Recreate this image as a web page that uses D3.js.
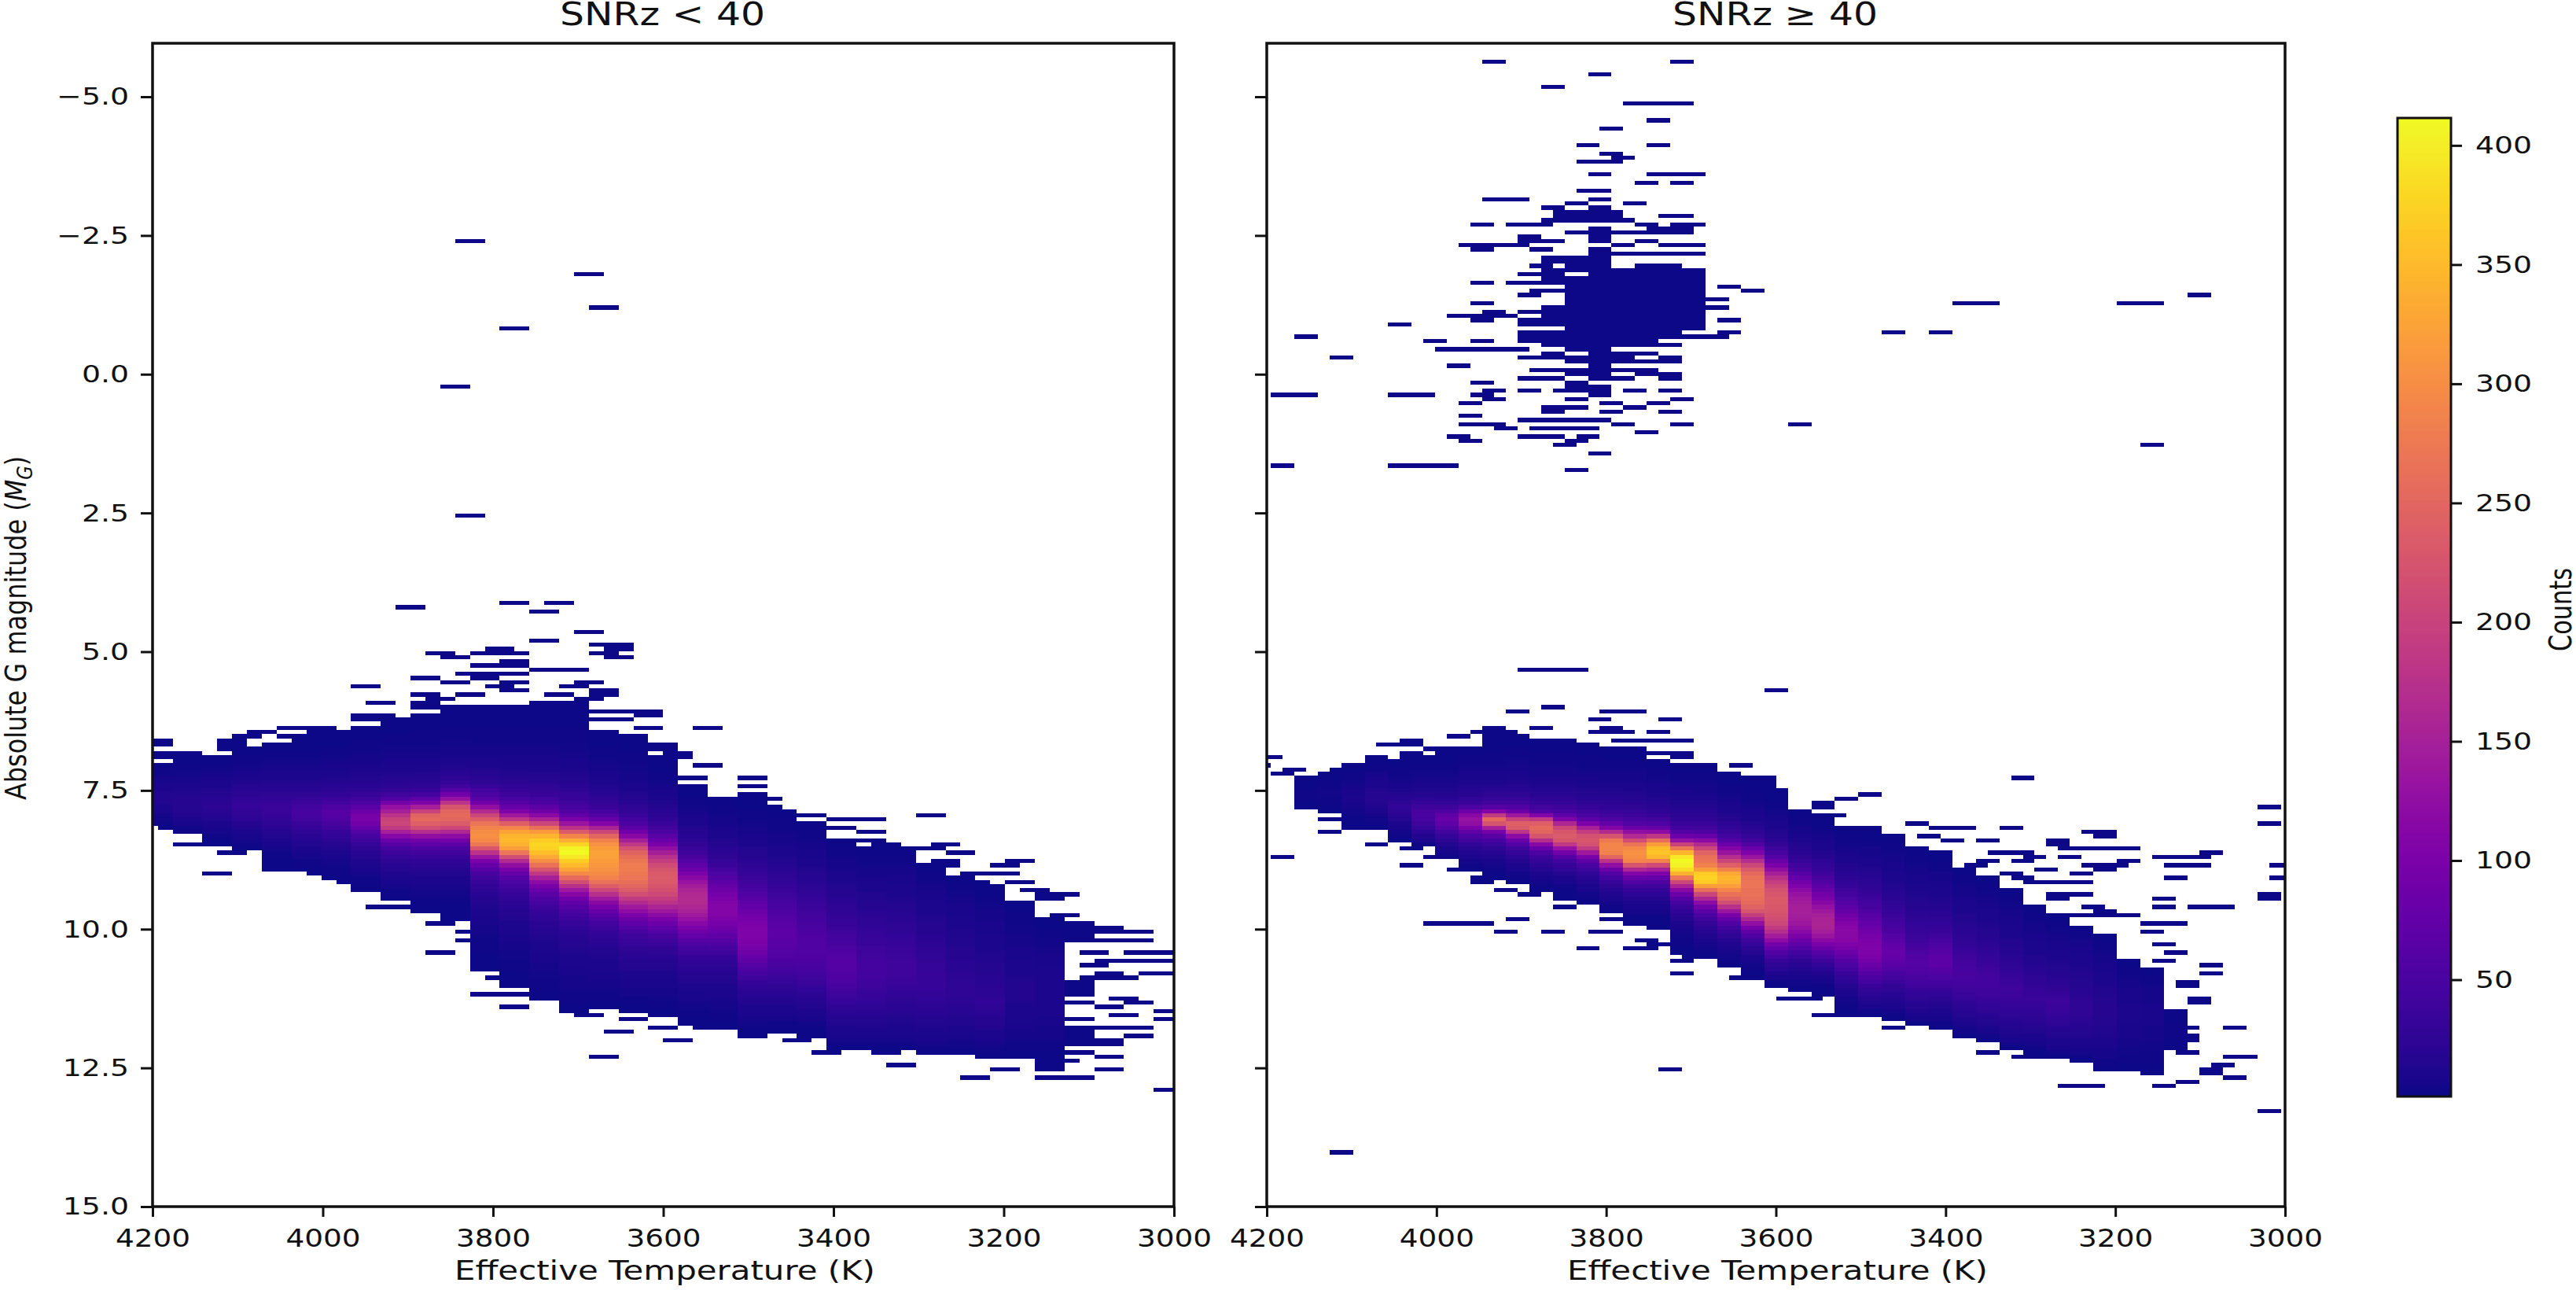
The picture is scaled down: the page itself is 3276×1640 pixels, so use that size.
<!DOCTYPE html>
<html>
<head>
<meta charset="utf-8">
<title>Absolute magnitude against effective temperature</title>
<script src="https://cdn.jsdelivr.net/npm/d3@7/dist/d3.min.js"></script>
<style>
  html, body { margin: 0; background: #fff; }
  svg { display: block; }
  text { font-family: "DejaVu Sans", sans-serif; fill: #111; }
</style>
</head>
<body>
<svg id="chart" width="3276" height="1640"></svg>
<script>
// Axis ticks
const tempTicks = [4200, 4000, 3800, 3600, 3400, 3200, 3000];
const magTicks = [-5, -2.5, 0, 2.5, 5, 7.5, 10, 12.5, 15];
const countTicks = [50, 100, 150, 200, 250, 300, 350, 400];

// Histogram grids: temperature bin edges (K) and magnitude rows
const lowEdgeStart = 4211.2, lowBinWidth = 34.92;
const highEdgeStart = 4195.4, highBinWidth = 27.7;
const magTop = -5.964, magStep = 0.075;

// SNRz < 40: first occupied magnitude row of each temperature bin
const lowFirstRows = [174,172,171,169,168,167,166,164,162,161,159,159,159,158,158,165,166,172,178,181,181,184,187,191,193,193,197,200,202,206,210];
// SNRz < 40: counts per row, one list per temperature bin
const lowCounts = [
[3,4,6,8,10,12,14,15,14,12,10,7,5,3],
[2,3,4,5,7,9,11,13,15,17,18,17,16,14,11,8,5,3],
[2,2,3,5,6,8,10,12,14,17,19,21,22,20,18,15,12,9,6,4,2],
[2,2,3,4,5,7,9,11,13,16,19,23,27,30,31,29,26,22,18,15,12,9,6,4,2],
[2,2,3,3,5,6,8,10,12,14,17,20,24,28,33,36,36,33,29,25,21,17,14,11,8,6,4,3,2],
[1,2,2,3,4,5,7,8,10,12,14,17,20,25,30,37,43,47,46,42,36,31,26,21,17,14,11,8,6,4,3,2],
[1,2,2,3,4,5,6,8,9,11,13,16,19,23,28,35,44,54,63,62,56,48,40,33,27,22,18,15,12,9,7,5,4,3,2],
[1,2,2,3,3,4,5,6,7,9,11,13,15,18,21,26,32,40,52,66,84,98,101,92,76,60,47,38,31,25,20,16,13,10,8,6,4,3,2],
[1,1,2,2,3,3,4,5,6,7,8,10,11,13,16,19,23,29,38,58,95,128,150,178,200,205,190,150,112,84,62,47,37,30,24,20,16,13,10,8,6,4,3,2],
[1,1,2,2,3,3,4,4,5,6,7,8,10,12,14,17,21,26,33,45,70,105,150,200,245,255,240,215,170,125,92,70,54,42,34,27,22,18,15,12,10,8,6,5,3,2,1],
[1,1,1,2,2,3,3,4,5,5,6,7,9,11,13,16,19,24,31,42,60,90,130,180,225,250,255,250,235,205,160,120,90,68,52,42,34,27,22,18,15,12,10,8,7,5,4,3,2,2,1],
[1,1,1,2,2,3,3,4,4,5,6,7,8,10,12,14,17,21,26,33,43,52,65,90,125,165,205,238,268,288,298,302,295,272,228,178,135,100,78,62,50,41,34,28,24,20,17,15,13,11,10,9,8,7,6,5,4,4,3,3,2,2,1],
[1,1,1,2,2,3,3,4,4,5,6,7,8,9,11,13,15,18,22,27,33,41,50,62,80,105,140,185,240,290,325,345,350,340,320,270,215,165,125,98,78,63,52,44,37,31,27,23,20,18,16,14,12,11,10,9,8,7,6,5,5,4,3,3,2,2,1],
[1,1,1,2,2,2,3,3,4,4,5,6,7,8,9,10,12,14,17,20,24,29,35,43,53,68,88,118,155,205,265,315,345,365,378,375,355,330,300,265,225,185,150,120,98,80,66,55,46,39,33,28,24,21,19,17,15,13,12,11,10,9,8,7,6,5,5,4,3,3,2,1],
[1,1,1,2,2,2,3,3,4,4,5,5,6,7,8,9,11,13,15,18,21,25,30,33,38,46,57,74,100,135,180,235,290,335,375,405,411,395,370,350,325,295,255,215,175,140,112,90,74,62,52,44,37,31,27,23,20,18,16,14,13,12,11,10,9,8,7,6,6,5,4,3,3,2,1],
[1,1,2,2,3,3,4,5,6,7,8,10,12,14,17,20,24,29,36,45,58,78,110,155,205,250,285,305,318,322,322,318,312,305,298,285,265,238,205,172,142,118,98,80,66,54,44,37,31,27,23,20,17,15,13,12,11,10,9,8,7,6,5,4,3,2,1],
[1,1,2,2,3,3,4,5,5,6,7,9,10,12,14,17,20,24,29,35,43,53,68,90,118,150,185,220,245,262,272,278,278,275,270,262,250,235,215,190,165,142,122,102,85,71,59,49,41,35,30,26,23,20,18,16,14,12,11,9,8,7,6,4,3,2,1],
[1,2,2,3,4,5,6,8,9,11,13,16,19,23,28,34,42,52,64,80,100,125,150,175,195,212,225,232,235,232,226,218,208,195,178,158,138,120,102,85,71,59,49,41,34,29,25,21,18,16,14,12,11,9,8,7,6,5,4,3,2,1],
[1,2,2,3,4,5,6,8,10,12,14,17,20,24,29,34,41,49,59,71,85,101,118,133,147,157,163,165,165,160,152,142,129,116,102,88,75,63,53,45,38,33,28,24,21,18,16,14,12,11,9,8,6,5,4,3,2,1],
[1,2,3,4,5,6,7,8,10,12,14,16,19,22,26,31,36,43,51,59,68,78,87,95,102,107,110,110,107,102,96,89,81,72,63,54,46,39,33,28,24,21,18,16,14,12,11,10,8,7,6,5,4,3,2,1],
[1,2,2,3,3,4,5,6,7,8,10,12,14,16,18,21,24,27,31,35,40,45,51,57,63,70,77,84,91,96,100,103,105,105,103,100,95,89,81,72,63,54,46,39,33,27,23,19,16,14,12,10,8,6,5,3,2],
[1,2,3,4,4,5,6,7,8,10,11,13,15,17,19,22,25,28,31,35,38,42,46,50,54,58,61,64,66,67,67,66,65,63,60,57,53,49,44,39,34,30,26,22,19,16,14,12,10,8,6,4,3,1],
[1,2,3,4,5,6,7,8,9,11,12,14,16,18,20,22,25,28,30,33,36,39,42,45,48,50,53,55,56,57,57,56,55,53,50,47,43,39,35,31,27,23,20,17,14,12,10,8,5,3,1],
[1,2,3,4,5,6,7,9,10,11,13,15,16,18,20,22,24,26,29,31,33,36,39,42,45,48,52,56,59,61,61,60,58,55,51,47,42,38,34,30,26,23,20,17,14,12,10,8,6,4,2],
[1,2,3,4,5,6,7,8,10,11,12,14,15,17,18,20,22,24,26,28,30,32,34,36,38,40,42,44,45,45,44,43,41,38,36,33,30,27,24,21,19,17,15,13,11,9,7,4,2],
[1,2,3,4,5,6,7,8,9,10,11,12,13,15,16,18,19,21,23,24,26,28,30,32,34,35,37,38,39,39,38,37,35,33,31,28,26,23,21,19,17,15,13,11,10,8,6,4,2],
[1,2,3,4,5,6,7,8,9,10,11,12,13,15,16,17,18,20,21,23,24,26,27,29,30,31,32,33,33,32,31,29,27,25,23,21,19,17,15,13,11,9,8,6,4,2],
[1,2,3,4,5,6,7,8,9,9,10,11,12,13,13,14,15,16,17,18,19,20,21,22,23,24,25,25,24,23,22,20,19,17,15,14,12,10,9,7,5,3,1],
[1,2,2,3,4,5,6,6,7,8,8,9,10,10,11,12,13,14,15,16,17,18,19,20,21,22,23,25,27,25,23,20,18,16,14,12,10,8,7,5,3,1],
[1,2,2,3,4,4,5,5,6,7,7,8,9,9,10,11,12,12,13,14,14,15,14,14,13,12,12,11,10,9,8,7,6,5,4,3,2,1],
[1,2,2,3,4,5,5,6,7,8,8,9,10,10,11,11,12,12,12,12,11,11,10,10,9,8,7,6,6,5,4,3,2,2,1]
];
// SNRz < 40: isolated single-count cells as [temperature bin, magnitude row]
const lowSparse = [
[10.5,47],[14.5,55],[15,63],[12,68],[10,82],[10.5,113],[8.5,135],[12,134],[13.5,134],[13,136],[14.5,141],[15,144],[15.5,144],[13,143],
[0,167],[0,168],[0,170],[1,170],[0,171],[0,173],[0,175],[1,171],[1,172],[2.5,167],[2.5,168],[2.5,169],[3.5,165],[3,166],[3.5,169],[4.5,164],[5.5,164],[5.5,165],[6.5,165],[4.5,166],[5.5,166],
[7,154],[7.5,158],[7,161],[7,162],[7.5,161],[9,156],[9,158],[9.5,157],[9,159],[9,161],[9,162],[9,152],[9.5,146],[10,147],[11,146],[11.5,145],[12,146],[12,148],[11,149],[12,149],[13,150],[14,150],[10.5,151],[12,151],[11,152],[12,153],[11.5,151],[11.5,154],[10,153],[10.5,156],[12,155],[13.5,156],[14,154],[14.5,153],[15,155],[15,156],[14.5,157],[15.5,145],[15.5,147],[15,146],[15,160],[15,162],[15.5,160],[16.5,160],[16.5,161],[15.5,162],[13.5,164],[13.5,166],[16.5,164],[15.5,166],[15.5,167],[16,166],[16.5,171],[17,169],
[0.5,188],[1,192],[2,192],[2,190],[2,199],[2.5,194],[3,193],[4,198],[4,197],[5.5,199],[6,200],[6.5,201],[7,203],[8,204],[7.5,207],[8.5,207],[9,208],[9.5,211],[10,210],[10.5,213],[10.5,215],[9.5,218],[11,228],[12,231],[12,228],[14.5,233],[16,234],[15.5,237],[17,236],[15,243],[17.5,239],[11,222],[11.5,222],[11.5,224],[12,226],[13.5,227],[13,226],
[18.5,164],[17,168],[17.5,170],[17.5,171],[18.5,173],[17.5,176],[18,176],[20,176],[20,178],[20,180],[20.5,181],[20.5,183],[21,185],[22,185],[21.5,185],[23,186],[24,186],[23,188],[24,189],[23,191],[24,191],[24.5,192],[26,185],[26.5,192],[26,193],[27,194],[26.5,196],[26.5,197],[29,196],[28.5,197],[27.5,199],[28.5,199],[27.5,201],[29,201],[29.5,203],[30,204],[30.5,204],[30,205],[30.5,209],
[31,211],[31,212],[32,212],[32,213],[33,213],[31,213],[31,214],[31,215],[32,215],[33,215],[31.5,218],[33,218],[34,218],[32,220],[33,220],[34,220],[31.5,221],[32,223],[33.5,223],[34.5,223],[31.5,224],[32.5,224],[31,225],[31,226],[31,227],[31,228],[32.5,229],[33,230],[31,230],[32,231],[34,232],[32.5,233],[34,234],[31,234],[31,236],[32,236],[33,236],[33,238],[32,239],[32,240],[31,237],[31,238],[31,239],[31,240],[31,242],[32,243],[30,243],[28,243],[29,243],[30.5,244],[30,245],[28.5,246],[30,246],[32,246],[25,245],[27.5,248],[30,248],[31,248],[22.5,242],[23,241],[24.5,242],[20,238],[21.5,239],[22,238],[18.5,236],[19,236],[17.5,239],[17,236],[34,251]
];

// SNRz >= 40: the same three tables for the brighter sample
const highFirstRows = [0,176,175,173,171,172,171,170,169,167,166,167,167,168,169,169,172,173,173,175,178,180,184,186,188,189,190,193,195,198,200,203,207,209,212,214,220,222,232];
const highCounts = [
[],
[1,2,2,3,3,3,2,1],
[1,2,3,4,5,5,4,3,2,1],
[1,2,3,4,5,7,8,9,10,9,7,5,4,2,1],
[1,2,3,4,6,8,10,12,14,16,17,16,13,10,7,5,3,1],
[1,2,3,4,5,7,9,12,16,20,25,28,26,21,16,12,8,5,3,1],
[1,2,3,4,5,6,8,10,13,17,22,30,40,48,50,46,38,30,22,15,9,4],
[1,2,2,3,4,5,7,8,10,13,16,21,28,40,55,72,78,70,56,42,31,22,15,10,6,3],
[1,2,3,4,5,6,8,9,11,14,17,21,27,36,52,85,115,130,125,100,72,52,38,27,20,15,10,7,4,2],
[1,2,2,3,3,4,5,6,8,9,12,15,19,24,31,42,62,110,190,255,225,150,95,65,46,34,25,18,13,9,6,3,2],
[1,2,2,3,3,4,5,6,7,9,11,13,16,20,25,32,42,58,85,140,200,240,235,180,120,80,56,40,30,22,16,12,8,5,3,1],
[1,2,2,3,3,4,5,6,7,9,11,13,16,20,25,32,42,58,110,190,240,255,250,225,170,115,78,55,40,30,22,16,12,8,5,3,1],
[1,2,2,3,3,4,5,6,7,9,11,13,16,19,24,30,38,50,70,105,160,205,230,235,225,185,130,90,62,44,32,24,17,12,8,5,3,1],
[1,2,2,3,3,4,5,6,8,9,11,14,17,20,25,31,39,50,68,100,150,195,220,228,220,190,140,100,70,50,37,27,20,15,11,8,5,3,1],
[1,2,2,3,4,5,6,7,9,11,13,16,19,23,28,34,42,55,75,110,165,225,275,290,290,285,250,180,125,85,60,43,32,24,18,13,10,7,4,2],
[1,2,2,3,4,5,6,7,8,10,12,14,17,21,25,30,37,46,60,85,125,165,215,270,295,305,300,290,225,160,110,78,56,40,30,22,16,12,9,6,4,2],
[1,2,3,4,5,6,8,9,11,14,17,21,26,33,42,55,78,120,185,260,320,355,360,345,285,210,150,105,75,54,40,30,22,16,12,9,6,4,2,1],
[1,2,3,4,5,6,8,9,11,13,16,19,23,28,35,45,60,85,130,200,275,345,395,411,405,385,340,270,205,155,115,85,63,47,36,27,21,16,12,9,7,5,4,3,2,1],
[1,2,3,4,5,6,7,9,11,13,16,19,23,28,34,42,55,80,120,165,205,245,265,270,285,320,365,375,365,320,260,205,160,120,90,68,50,38,29,22,17,13,10,7,5,3,1],
[1,2,2,3,4,5,6,8,10,12,15,18,22,27,34,44,60,85,110,135,170,205,240,285,330,345,340,320,290,265,245,215,175,135,100,75,56,42,32,24,18,13,10,7,5,3,1],
[1,2,3,4,5,6,8,10,12,15,19,24,31,42,58,80,105,135,170,205,235,255,265,270,270,265,265,260,255,245,225,195,160,125,95,72,54,41,31,23,17,12,8,5,3,1],
[1,2,3,4,5,6,8,10,12,15,18,23,29,37,47,60,78,100,125,150,175,195,210,220,228,232,232,230,228,222,215,205,190,170,145,120,95,75,58,45,34,26,19,13,8,4,2],
[1,2,3,4,6,7,9,11,14,17,21,26,32,40,50,62,75,90,105,120,132,140,146,150,150,148,144,138,128,115,100,85,70,56,44,34,26,20,15,11,8,5,3,1],
[1,2,3,5,6,8,10,12,15,18,22,27,33,40,49,58,68,78,90,102,115,128,140,150,155,158,155,148,135,118,100,82,65,50,38,28,20,14,9,6,4,2,1],
[1,2,3,4,5,7,8,10,12,14,17,20,23,27,32,38,44,51,59,68,78,88,98,106,112,115,115,112,105,96,85,74,62,52,43,35,28,22,17,13,10,7,5,3,2,1],
[1,2,3,4,6,7,8,10,12,14,16,19,22,25,29,33,38,43,49,55,62,69,76,83,90,96,100,103,105,104,100,93,84,74,63,53,44,36,29,23,18,13,9,5,2],
[1,2,3,4,5,6,7,8,9,10,12,13,15,17,19,21,24,27,30,34,38,43,48,53,59,65,71,76,78,76,71,65,58,50,42,35,29,24,20,16,13,10,7,4,2],
[1,2,3,4,5,6,7,8,9,10,12,13,14,16,18,20,22,24,27,30,33,36,40,44,48,52,56,59,60,58,54,49,44,38,33,28,24,20,16,13,9,6,2],
[1,2,3,4,6,7,8,9,10,12,13,15,17,19,21,24,27,31,35,40,46,52,58,63,67,69,67,63,57,51,44,38,32,27,22,18,15,12,9,6,3,1],
[1,2,3,4,5,6,7,8,10,11,12,14,15,17,19,21,23,26,29,32,35,39,42,45,47,49,47,45,42,38,34,30,26,22,19,16,13,10,7,5,2],
[1,2,3,4,5,6,7,8,10,11,12,13,15,17,18,20,22,25,27,30,33,36,39,42,43,44,43,41,38,35,31,27,24,20,17,14,11,8,5,2],
[1,2,3,4,5,6,7,8,9,10,11,12,14,15,17,18,20,22,25,27,30,33,35,37,38,37,36,33,30,27,24,21,18,15,13,10,8,5,2],
[1,2,3,4,5,6,7,8,9,10,11,12,14,15,17,19,21,24,26,29,31,33,34,33,31,28,25,22,19,16,14,11,9,7,4,2],
[1,2,3,4,5,6,7,8,9,10,11,13,14,16,18,20,23,26,29,32,35,37,36,34,31,27,24,20,17,14,12,10,8,5,2],
[1,3,4,6,7,8,9,10,11,12,13,14,15,16,17,19,20,22,24,25,25,24,22,20,18,16,14,12,10,8,6,4,2],
[1,2,3,4,5,6,7,8,9,10,11,12,13,14,15,16,17,18,18,18,17,16,15,14,13,12,10,9,7,6,4,3,1],
[1,2,3,4,5,6,7,8,8,9,9,10,10,10,10,9,9,8,8,7,6,5,5,4,3,2,1],
[1,2,3,4,5,6,6,7,7,8,8,8,8,8,7,7,6,6,5,5,4,4,3,2,2,1],
[1,2,2,3,3,3,3,2,2,1]
];
// Giant-branch clump: unbroken vertical runs of low counts as [bin, first row, last row]
const highRuns = [
[13.5,44,47],[13.5,49,80],[13.5,82,84],
[12.5,51,54],[12.5,56,73],[12.5,75,76],[12.5,78,79],[12.5,81,83],
[14.5,54,72],[14.5,74,76],[14.5,78,78],[14.5,80,80],
[15.5,53,72],[15.5,74,74],[15.5,76,76],[15.5,78,79],
[16.5,53,70],[16.5,72,72],[16.5,75,76],[16.5,79,80],
[17.5,54,68],[17.5,70,70],
[11.5,63,67],[11.5,69,72],[11.5,74,74],
[10.5,66,67],[10.5,70,71]
];
const highSparse = [
[9,4],[17,4],[13.5,7],[11.5,10],[15,14],[16,14],[17,14],[16,18],[14,20],[13,24],[16,24],[14,26],[14.5,27],[13,28],[14,28],[13.5,31],[16,31],[17,31],[17.5,31],[15.5,33],[17,33],[13,35],[13.5,35],[9,37],[10,37],[13.5,37],[15,38],[11.5,39],[12.5,38],[13.5,39],[12,40],[13,40],[14,40],[12,41],[13,41],[14,41],[16.5,41],[17,41],[8.5,43],[10,43],[11,43],[11.5,42],[12.5,42],[13.5,42],[14.5,42],[15.5,43],[17,43],[17.5,43],[16,44],[17,44],[14.5,45],[15,45],[16,45],[17,45],[10.5,46],[12.5,45],
[8,48],[9,48],[10,48],[10.5,47],[11.5,47],[11,49],[8.5,49],[14.5,48],[15.5,47],[16.5,48],[17,48],[17.5,48],[14.5,50],[15.5,50],[16.5,50],[17,50],[17.5,50],[11.5,51],[11.5,52],[11.5,54],[11,53],[10.5,55],[11.5,55],[8.5,57],[10,57],[11,57],[11.5,56],[11.5,57],[11.5,59],[11,59],[10.5,60],[8.5,62],[10.5,64],[11.5,64],[9,64],[7.5,65],[8.5,65],[9.5,65],[8.5,66],[10.5,66],[5,67],[1,70],[6.5,71],[8.5,71],[10.5,69],[10.5,71],[7,73],[8,73],[9,73],[10,73],[2.5,75],[7.5,77],[10.5,75],[11.5,75],[11,78],[12,78],[8.5,81],[10.5,80],[11.5,80],[9,83],[8.5,84],[0,84],[1,84],[5,84],[6,84],[10.5,83],[12,83],[13,83],[15,83],[16.5,83],[8,86],[9,85],[17,85],[12.5,85],[12.5,87],[14,86],[14,88],[16,86],[15,87],[11.5,87],[11.5,88],[16.5,88],[8,89],[10.5,90],[11.5,90],[12.5,90],[13.5,90],[8,91],[9,91],[17,91],[22,91],[14.5,91],[9.5,92],[11,92],[12,92],[13,92],[15.5,93],[7.5,94],[13,94],[8,95],[10.5,94],[11.5,94],[12.5,95],[12,96],[13.5,98],[0,101],[5,101],[6,101],[7,101],[12.5,102],[26,69],
[19,58],[20,59],[18.5,61],[18.5,63],[19,66],[19,69],[18.5,70],[28,69],[29,62],[30,62],[36,62],[37,62],[39,60],[37,96],[2.5,266],
[10.5,150],[11.5,150],[12.5,150],[21,155],[10,160],[11.5,159],[14,160],[15,160],[13.5,162],[16.5,162],[9,164],[9,165],[11,164],[16,165],[14,164],[13.5,165],[14.5,165],[7.5,166],[8.5,165],[9.5,165],[9,166],[13,168],[14.5,167],[15.5,167],[16,167],[17,167],[15,169],[16,170],[16,172],[17,170],[17,171],[17,173],
[4.5,168],[5.5,167],[5.5,168],[5.5,170],[6.5,169],[5.5,171],[6.5,171],[7.5,169],[8.5,169],[4,171],[3,173],[4,173],[3,174],[4,174],[2.5,174],[1.5,176],[2.5,176],[1.5,177],[2.5,177],[1.5,179],[0.5,174],[0,175],[-0.5,171],[-1,173],
[1,181],[1,182],[2,184],[2,186],[3,187],[3,188],[2,189],[4,192],[5.5,190],[5.5,193],[6,192],[6.5,195],[5.5,197],[7.5,198],[8.5,198],[0,195],[8.5,200],[9.5,200],[8.5,201],[9.5,203],[10.5,204],[12,205],[12,207],[6.5,211],[7.5,211],[8.5,211],[10,210],[9.5,213],[11.5,213],[13.5,213],[14,213],[13,217],[15,217],[15.5,217],[14,210],[15,211],[16,212],[15.5,215],[16,216],[17,220],[17,223],[17.5,219],[19.5,224],[20.5,224],[21,226],[21.5,229],[22.5,229],[16.5,246],[19.5,173],[19.5,176],[20.5,176],[19.5,177],[20.5,177],[20.5,178],[21,179],
[25,180],[24,181],[23,182],[23,183],[23,185],[23.5,185],[24,188],[25,188],[31.5,176],[27,187],[28,188],[29,188],[31,188],[27.5,190],[28.5,191],[30,191],[34.5,189],[35,189],[35,190],[33,191],[33,192],[33.5,193],[34,193],[35,193],[36,193],[30.5,194],[31.5,194],[31.5,196],[32,195],[33.5,195],[37.5,195],[38.5,195],[39.5,194],[39,195],[36,196],[35.5,197],[34.5,197],[35,198],[38,197],[39,197],[30,196],[28,194],[28,195],[29.5,197],[31,199],[31.5,200],[32.5,198],[34,199],[32,201],[33,201],[34,201],[38,200],[33,204],[34,204],[33,205],[37.5,205],[37.5,207],[39,207],[40,207],[34.5,207],[35,208],[34,209],[35,209],[36,209],[37,211],[37,213],[37.5,211],[38,211],[37.5,216],[38,218],[37.5,220],[39.5,221],[39.5,223],[38.5,225],[38.5,226],[39,229],[39,230],[38,232],[38,234],[38.5,236],[38.5,238],[38.5,239],[40.5,236],[38.5,242],[40.5,243],[41,243],[40,245],[39.5,246],[39.5,247],[40.5,248],[38.5,249],[37.5,250],[33.5,250],[34.5,250],[30,242],[26,236],[23,233],[31.5,243],[32.5,243],[42,183],[42,187],[42.5,197],[42.5,200],[42,204],[42,205],[42,256]
];

const W = 3276, H = 1640;
const plotTop = 55, plotBottom = 1534;
const svg = d3.select("#chart").attr("viewBox", `0 0 ${W} ${H}`);
const color = d3.scaleSequential(d3.interpolatePlasma).domain([1, 411.5]);
const y = d3.scaleLinear().domain([magTop, 15]).range([plotTop, plotBottom]);

// One cell per histogram bin; half-integer bins come straight from the tables
function cellsFor(firstRows, counts, sparse, runs) {
  const cells = [];
  sparse.forEach(([k, row]) => cells.push({ k, row, value: 1, rows: 1 }));
  runs.forEach(([k, a, b]) => cells.push({ k, row: a, value: 2, rows: b - a + 1 }));
  counts.forEach((col, k) => col.forEach((value, i) => cells.push({ k, row: firstRows[k] + i, value, rows: 1 })));
  return cells;
}

function drawPanel(id, left, right, edgeStart, binWidth, cells, titleText, showLabels) {
  const x = d3.scaleLinear().domain([4200, 3000]).range([left, right]);
  const g = svg.append("g");
  const edge = k => edgeStart - k * binWidth;

  svg.append("defs").append("clipPath").attr("id", id)
    .append("rect").attr("x", left).attr("y", plotTop).attr("width", right - left).attr("height", plotBottom - plotTop);

  g.append("g").attr("clip-path", `url(#${id})`).attr("shape-rendering", "crispEdges")
    .selectAll("rect").data(cells).join("rect")
    .attr("x", d => x(edge(d.k)))
    .attr("width", d => x(edge(d.k + 1)) - x(edge(d.k)))
    .attr("y", d => y(magTop + d.row * magStep))
    .attr("height", d => y(magTop + (d.row + d.rows) * magStep) - y(magTop + d.row * magStep))
    .attr("fill", d => color(d.value));

  g.append("rect").attr("x", left).attr("y", plotTop).attr("width", right - left).attr("height", plotBottom - plotTop)
    .attr("fill", "none").attr("stroke", "#111").attr("stroke-width", 3.5);

  const xAxis = g.append("g").attr("transform", `translate(0,${plotBottom})`)
    .call(d3.axisBottom(x).tickValues(tempTicks).tickSize(13).tickPadding(15).tickFormat(d3.format("d")));
  xAxis.select(".domain").remove();
  xAxis.selectAll("line").attr("stroke", "#111").attr("stroke-width", 3);
  xAxis.selectAll("text").attr("font-size", 32).attr("fill", "#111").attr("transform", "scale(1.17,1)");

  const yAxis = g.append("g").attr("transform", `translate(${left},0)`)
    .call(d3.axisLeft(y).tickValues(magTicks).tickSize(15).tickPadding(15)
      .tickFormat(showLabels ? (d => d3.format(".1f")(d).replace("-", "\u2212")) : ""));
  yAxis.select(".domain").remove();
  yAxis.selectAll("line").attr("stroke", "#111").attr("stroke-width", 3);
  yAxis.selectAll("text").attr("font-size", 31).attr("fill", "#111")
    .attr("x", -30 / 1.22).attr("transform", "scale(1.22,1)");

  const mid = (left + right) / 2;
  g.append("text").attr("text-anchor", "middle").attr("font-size", 40)
    .attr("transform", `translate(${mid - 1},32) scale(1.22,1)`).text(titleText);
  g.append("text").attr("text-anchor", "middle").attr("font-size", 33)
    .attr("transform", `translate(${mid + 2},1627) scale(1.27,1)`).text("Effective Temperature (K)");
}

drawPanel("clip-low", 194, 1493, lowEdgeStart, lowBinWidth, cellsFor(lowFirstRows, lowCounts, lowSparse, []), "SNRz < 40", true);
drawPanel("clip-high", 1611, 2906, highEdgeStart, highBinWidth, cellsFor(highFirstRows, highCounts, highSparse, highRuns), "SNRz \u2265 40", false);

// Shared magnitude label with its italic subscripted symbol
const yLabel = svg.append("text").attr("font-size", 38)
  .attr("transform", "translate(33,1017) rotate(-90) scale(0.84,1)");
yLabel.append("tspan").text("Absolute G magnitude (");
yLabel.append("tspan").attr("font-style", "italic").text("M");
yLabel.append("tspan").attr("font-style", "italic").attr("font-size", 27).attr("dy", 8).text("G");
yLabel.append("tspan").attr("dy", -8).text(")");

// Colour bar
const barLeft = 3049, barRight = 3117, barTop = 150, barBottom = 1394;
const barScale = d3.scaleLinear().domain([1, 411.5]).range([barBottom, barTop]);
const bar = svg.append("g");
bar.append("g").attr("shape-rendering", "crispEdges")
  .selectAll("rect").data(d3.range(1, 411.5, 0.5)).join("rect")
  .attr("x", barLeft).attr("width", barRight - barLeft)
  .attr("y", d => barScale(d + 0.5)).attr("height", d => barScale(d) - barScale(d + 0.5) + 1)
  .attr("fill", d => color(d));
bar.append("rect").attr("x", barLeft).attr("y", barTop).attr("width", barRight - barLeft).attr("height", barBottom - barTop)
  .attr("fill", "none").attr("stroke", "#111").attr("stroke-width", 3);
const barAxis = bar.append("g").attr("transform", `translate(${barRight},0)`)
  .call(d3.axisRight(barScale).tickValues(countTicks).tickSize(14).tickPadding(16));
barAxis.select(".domain").remove();
barAxis.selectAll("line").attr("stroke", "#111").attr("stroke-width", 3);
barAxis.selectAll("text").attr("font-size", 31).attr("fill", "#111")
  .attr("x", 31 / 1.22).attr("transform", "scale(1.22,1)");
svg.append("text").attr("text-anchor", "middle").attr("font-size", 39)
  .attr("transform", "translate(3270,775) rotate(-90) scale(0.78,1)").text("Counts");
</script>
</body>
</html>
